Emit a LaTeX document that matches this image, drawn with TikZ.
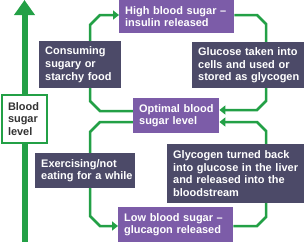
\documentclass[tikz,border=0pt]{standalone}
\usepackage{fontspec}
\setmainfont{Liberation Sans}
\usetikzlibrary{arrows.meta,calc}
\definecolor{purp}{HTML}{7C5CA8}
\definecolor{slate}{HTML}{4C4A68}
\definecolor{grn}{HTML}{23A046}
\definecolor{txtgray}{HTML}{333333}
\pgfdeclarelayer{bg}
\pgfsetlayers{bg,main}
\hyphenpenalty=10000
\exhyphenpenalty=10000
\begin{document}
\begin{tikzpicture}[x=1bp,y=-1bp,
  font=\bfseries\fontsize{11}{12.7}\selectfont,
  box/.style={anchor=north west, inner xsep=6bp, inner ysep=0pt, align=left, text=white},
  darkbox/.style={box, fill=slate},
  purplebox/.style={box, fill=purp},
  loopline/.style={draw=grn, line width=2.5bp, -{Triangle[length=6bp,width=9bp]}},
  mainline/.style={draw=grn, line width=6bp}
]
\useasboundingbox (0,0) rectangle (304,242);

\node[purplebox, text width=103bp, minimum height=33bp] (high) at (119,0) {High~blood~sugar~–\\insulin~released};
\node[darkbox, text width=70bp, minimum height=47bp] (cons) at (39,41) {Consuming\\sugary~or\\starchy~food};
\node[darkbox, text width=100bp, minimum height=46bp] (gluc) at (192,42) {Glucose~taken~into\\cells~and~used~or\\stored~as~glycogen};
\node[purplebox, text width=74bp, minimum height=35bp] (opt) at (133,98) {Optimal~blood\\sugar~level};
\node[darkbox, text width=88bp, minimum height=35bp] (exer) at (35,153) {Exercising/not\\eating~for~a~while};
\node[darkbox, text width=125bp, minimum height=59bp] (glyc) at (167,144) {Glycogen~turned~back\\into~glucose~in~the~liver\\and~released~into~the\\bloodstream};
\node[purplebox, text width=103bp, minimum height=35bp] (low) at (118,207) {Low~blood~sugar~–\\glucagon~released};

\node[anchor=north west, draw=grn, line width=2bp, fill=white, text=txtgray,
  inner xsep=6bp, inner ysep=0pt, text width=33bp, minimum height=48bp, align=left] (bsl) at (1,94) {Blood\\sugar\\level};

\coordinate (top) at (24,0);
\coordinate (bot) at (24,242);

\begin{pgfonlayer}{bg}
\draw[mainline, -{Triangle[length=15bp,width=20bp]}] (bsl.north) -- (bsl.north |- top);
\draw[mainline] (bsl.south) -- (bsl.south |- bot);

\draw[loopline] ($(opt.north west)+(0,13)$) -- (100,111) -- (90,101) -- (90,25) -- (100,15) -- ($(high.north west)+(0,15)$);
\draw[loopline] ($(high.north east)+(0,15)$) -- (257,15) -- (266,24) -- (266,101) -- (257,110) -- ($(opt.north east)+(0,12)$);
\draw[loopline] ($(low.north east)+(0,19)$) -- (257,226) -- (266,217) -- (266,131) -- (257,122) -- ($(opt.north east)+(0,24)$);
\draw[loopline] ($(opt.north west)+(0,24)$) -- (100,122) -- (90,132) -- (90,216) -- (100,226) -- ($(low.north west)+(0,19)$);
\end{pgfonlayer}
\end{tikzpicture}
\end{document}
